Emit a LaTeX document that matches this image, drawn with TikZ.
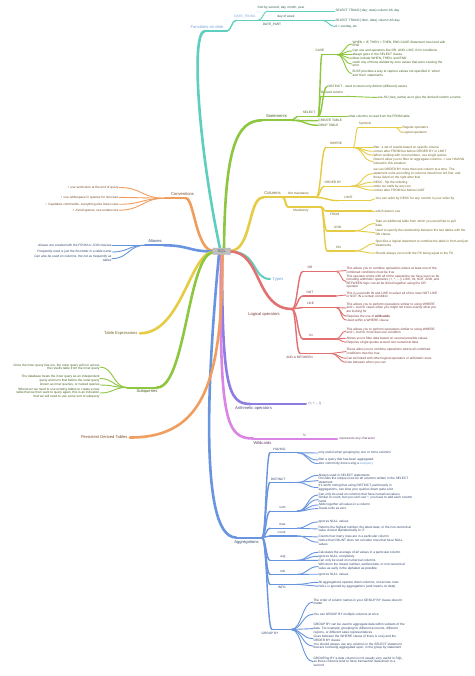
\documentclass[tikz,border=0pt]{standalone}
\usepackage{fontspec}
\setmainfont{Liberation Sans}
\usetikzlibrary{calc}
\definecolor{cTeal}{HTML}{5ECFBE}
\definecolor{cGreen}{HTML}{8DC63F}
\definecolor{cYellow}{HTML}{E6CB45}
\definecolor{cRed}{HTML}{E27070}
\definecolor{cPurple}{HTML}{8E7CE2}
\definecolor{cPink}{HTML}{DA84E4}
\definecolor{cBlue}{HTML}{6894E0}
\definecolor{cOrange}{HTML}{F09E60}
\definecolor{cLink}{HTML}{6FA3DA}
\colorlet{tTeal}{cTeal!45!black}
\colorlet{tGreen}{cGreen!50!black}
\colorlet{tYellow}{cYellow!50!black}
\colorlet{tRed}{cRed!55!black}
\colorlet{tPurple}{cPurple!55!black}
\colorlet{tPink}{cPink!50!black}
\colorlet{tBlue}{cBlue!50!black}
\colorlet{tOrange}{cOrange!50!black}
\newcommand\lfs{\fontsize{3.2}{3.6}\selectfont}
\newcommand\mds{\fontsize{3.2}{3.6}\selectfont}
\newcommand\tps{\fontsize{4.1}{4.6}\selectfont}
\newcommand\mmc[4][w3]{\draw[#1,#2] let \p1=(#3),\p2=(#4) in (\p1) .. controls ({0.5*\x1+0.5*\x2},\y1) and ({0.5*\x1+0.5*\x2},\y2) .. (\p2);}
\tikzset{
 w0/.style={line width=2.6pt},
 w1/.style={line width=2pt},
 w2/.style={line width=1.4pt},
 w3/.style={line width=0.9pt},
 tlab/.style={font=\tps, text=#1, inner sep=0.3pt},
 mlab/.style={font=\mds, text=#1, inner sep=0.3pt},
 lfR/.style={font=\lfs, text=#1, inner sep=0.3pt, anchor=west, align=left},
 lfL/.style={font=\lfs, text=#1, inner sep=0.3pt, anchor=east, align=right},
}
\begin{document}
\begin{tikzpicture}[x=1pt,y=-1pt,line cap=round]
\fill[white] (0,0) rectangle (474,676);
\useasboundingbox (0,0) rectangle (474,676);
% root points on the SQL box
\coordinate (rTeal) at (220,248.5);
\coordinate (rGreen) at (224,248.5);
\coordinate (rYellow) at (230,251);
\coordinate (rTypes) at (230,251.5);
\coordinate (rRed) at (230,251.5);
\coordinate (rPurple) at (222,254);
\coordinate (rPink) at (221,254);
\coordinate (rBlue) at (219,254);
\coordinate (rOr1) at (213.5,251);
\coordinate (rBl2) at (213.5,251.5);
\coordinate (rYl2) at (213.5,252);
\coordinate (rGr2) at (213.5,252.5);
\coordinate (rOr2) at (222.5,254);

% ===== Functions on date
\coordinate (fodA) at (205,31);
\coordinate (fodB) at (227,31);
\draw[w0,cTeal] (rTeal) .. controls (199,150) and (190,31) .. (fodA);
\draw[w1,cTeal] (fodA) -- (fodB);
\node[tlab=cLink] (fod) at (207,26.6) {Functions on date};
\coordinate (dtA) at (236,20.3);
\coordinate (dtM) at (258,20.3);
\coordinate (dtN) at (322,20.3);
\coordinate (dtB) at (331,20.3);
\mmc[w2]{cTeal}{fodB}{dtA}
\draw[w2,cTeal] (dtA) -- (dtB);
\node[mlab=cLink] (dtrunc) at (245,16.6) {DATE\_TRUNC};
\node[mlab=tTeal] (dow) at (286,16.2) {day of week};
\node[mlab=tTeal] (dpart) at (272,25) {DATE\_PART};
\coordinate (srA) at (268,11);
\coordinate (srB) at (331,11);
\mmc{cTeal}{dtM}{srA}
\draw[w3,cTeal] (srA) -- (srB);
\node[mlab=tTeal] (sort) at (281,7.4) {Sort by second, day, month, year};
\node[lfR=tTeal] (tr1) at (335,11) {SELECT TRUNC('day', date) column AS day};
\node[lfR=tTeal] (tr2) at (335,20.3) {SELECT TRUNC('dow', date) column AS day};
\node[lfR=tTeal] (tr3) at (335,26.5) {0 = sunday, etc};
\mmc{cTeal}{srB}{tr1.west}
\mmc{cTeal}{dtB}{tr2.west}
\mmc{cTeal}{dtN}{tr3.west}

% ===== Statements
\coordinate (stA) at (262,120.3);
\coordinate (stB) at (292,120.3);
\draw[w0,cGreen] (rGreen) .. controls (225,150) and (236,120.3) .. (stA);
\draw[w1,cGreen] (stA) -- (stB);
\node[tlab=tGreen] (stm) at (276.5,116.2) {Statements};
\coordinate (slA) at (297,116.6);
\coordinate (slB) at (318,116.6);
\mmc[w2]{cGreen}{stB}{slA}
\draw[w2,cGreen] (slA) -- (slB);
\node[mlab=tGreen] (sel) at (309,112.8) {SELECT};
\node[mlab=tGreen,anchor=west] (crt) at (318,120.8) {CREATE TABLE};
\node[mlab=tGreen,anchor=west] (drp) at (318,125.3) {DROP TABLE};
\mmc[w2]{cGreen}{stB}{crt.west}
\mmc[w2]{cGreen}{stB}{drp.west}
\node[lfR=tGreen] (sl1) at (348,116.6) {what columns to read from the FROM table};
\draw[w3,cGreen] (slB) -- (sl1.west);
\coordinate (dcA) at (321,96.3);
\coordinate (dcB) at (346,96.3);
\mmc[w2]{cGreen}{slB}{dcA}
\draw[w2,cGreen] (dcA) -- (dcB);
\node[mlab=tGreen] (dcol) at (332,92.6) {Derived column};
\node[lfR=tGreen] (dc1) at (377,97.5) {use AS (new\_name) as to give the derived column a name};
\mmc{cGreen}{dcB}{dc1.west}
\node[lfR=tGreen] (dst) at (327,86.6) {DISTINCT - used to return only distinct (different) values};
\mmc[w2]{cGreen}{slB}{dst.west}
\coordinate (csA) at (322,54.6);
\coordinate (csB) at (337,54.6);
\mmc[w2]{cGreen}{slB}{csA}
\draw[w2,cGreen] (csA) -- (csB);
\node[mlab=tGreen] (case) at (320,50.8) {CASE};
\node[lfR=tGreen] (cs1) at (352,44) {WHEN = IF, THEN = THEN, END CASE Statement must end with\\END};
\node[lfR=tGreen] (cs2) at (352,51) {Can use and operators like OR, AND, LIKE, IN in conditions};
\node[lfR=tGreen] (cs3) at (352,54.6) {always goes in the SELECT clause};
\node[lfR=tGreen] (cs4) at (352,58.2) {Must include WHEN, THEN, and END};
\node[lfR=tGreen] (cs5) at (352,64) {catch any of those divided by zero values that were causing the\\error};
\node[lfR=tGreen] (cs6) at (352,73.5) {ELSE provides a way to capture values not specified in `when'\\and `then' statements};
\foreach \i in {1,...,6} {\mmc{cGreen}{csB}{cs\i.west}}

% ===== Columns
\coordinate (coA) at (263,197.5);
\coordinate (coB) at (283,197.5);
\coordinate (nmB) at (316,197.5);
\draw[w0,cYellow] (rYellow) .. controls (252,251) and (248,197.5) .. (coA);
\draw[w1,cYellow] (coA) -- (nmB);
\node[tlab=tYellow] (col) at (272.5,193.4) {Columns};
\node[mlab=tYellow] (nm) at (298.5,193.6) {Not mandatory};
% WHERE
\coordinate (whA) at (326,147.5);
\coordinate (whB) at (353,147.5);
\mmc[w2]{cYellow}{nmB}{whA}
\draw[w2,cYellow] (whA) -- (whB);
\node[mlab=tYellow] (where) at (336,143.7) {WHERE};
\coordinate (syA) at (358,127.6);
\coordinate (syB) at (396,127.6);
\mmc{cYellow}{whB}{syA}
\draw[w3,cYellow] (syA) -- (syB);
\node[mlab=tYellow] (sym) at (365,123.8) {Symbols};
\node[lfR=tYellow] (sy1) at (402,127.7) {Regular operators};
\node[lfR=tYellow] (sy2) at (402,132.5) {Logical operators};
\mmc{cYellow}{syB}{sy1.west}
\mmc{cYellow}{syB}{sy2.west}
\node[lfR=tYellow] (wh1) at (373,147.5) {filter: a set of results based on specific criteria};
\node[lfR=tYellow] (wh2) at (373,151.3) {comes after FROM but before ORDER BY or LIMIT};
\node[lfR=tYellow] (wh3) at (373,155.2) {When working with non-numbers, use single quotes};
\node[lfR=tYellow] (wh4) at (373,161.5) {Doesn't allow you to filter on aggregate columns -> use HAVING\\instead in this situation};
\foreach \i in {1,...,4} {\mmc{cYellow}{whB}{wh\i.west}}
% ORDER BY
\coordinate (obA) at (324,186.3);
\coordinate (obB) at (351,186.3);
\mmc[w2]{cYellow}{nmB}{obA}
\draw[w2,cYellow] (obA) -- (obB);
\node[mlab=tYellow] (ob) at (333,182.6) {ORDER BY};
\node[lfR=tYellow] (ob1) at (373,173.6) {we can ORDER BY more than one column at a time. The\\statement sorts according to columns listed from left first, and\\those listed on the right after that};
\node[lfR=tYellow] (ob2) at (373,182.2) {DESC - flip the ordering};
\node[lfR=tYellow] (ob3) at (373,186.2) {order our table by any row};
\node[lfR=tYellow] (ob4) at (373,190.2) {comes after FROM but before LIMIT};
\foreach \i in {1,...,4} {\mmc{cYellow}{obB}{ob\i.west}}
% LIMIT
\coordinate (liA) at (338,200.6);
\coordinate (liB) at (370,200.6);
\mmc[w2]{cYellow}{nmB}{liA}
\draw[w2,cYellow] (liA) -- (liB);
\node[mlab=tYellow] (limit) at (348.5,197) {LIMIT};
\node[lfR=tYellow] (li1) at (375,198.7) {You can order by DESC for any column in your order by};
\mmc{cYellow}{liB}{li1.west}
% Mandatory
\coordinate (mdA) at (288,207);
\coordinate (mdB) at (321,207);
\mmc[w1]{cYellow}{coB}{mdA}
\draw[w1,cYellow] (mdA) -- (mdB);
\node[mlab=tYellow] (mand) at (301,210.6) {Mandatory};
\coordinate (frA) at (326,211);
\coordinate (frB) at (372,211);
\mmc[w2]{cYellow}{mdB}{frA}
\draw[w2,cYellow] (frA) -- (frB);
\node[mlab=tYellow] (from) at (334.5,214.6) {FROM};
\node[lfR=tYellow] (fr1) at (375,211) {which data to use};
\draw[w3,cYellow] (frB) -- (fr1.west);
\coordinate (jnA) at (327,230.8);
\coordinate (jnB) at (355,230.8);
\mmc[w2]{cYellow}{mdB}{jnA}
\draw[w2,cYellow] (jnA) -- (jnB);
\node[mlab=tYellow] (join) at (337.5,227.2) {JOIN};
\node[lfR=tYellow] (jn1) at (375,223.6) {Take an additional table from which you would like to pull\\data};
\node[lfR=tYellow] (jn2) at (375,232.6) {Used to specify the relationship between the two tables with the\\ON clause};
\mmc{cYellow}{jnB}{jn1.west}
\mmc{cYellow}{jnB}{jn2.west}
\coordinate (onA) at (327,251);
\coordinate (onB) at (355,251);
\mmc[w2]{cYellow}{mdB}{onA}
\draw[w2,cYellow] (onA) -- (onB);
\node[mlab=tYellow] (on) at (338.5,247.4) {ON};
\node[lfR=tYellow] (on1) at (375,243.6) {Specifies a logical statement to combine the table in from and join\\statements};
\node[lfR=tYellow] (on2) at (375,253.2) {Should always occur with the PK being equal to the FK};
\mmc{cYellow}{onB}{on1.west}
\mmc{cYellow}{onB}{on2.west}

% ===== Types
\coordinate (tyE) at (270,279);
\draw[w1,cTeal] (rTypes) .. controls (258,251.5) and (252,279) .. (tyE);
\node[tlab=cLink,anchor=west] (types) at (272,279.2) {Types};

% ===== Logical operators
\coordinate (loA) at (292,309);
\draw[w0,cRed] (rRed) .. controls (262,251.5) and (255,309) .. (loA);
\node[tlab=tRed] (lo) at (264,314) {Logical operators};
\coordinate (orA) at (303,271.3);
\coordinate (orB) at (336,271.3);
\mmc[w2]{cRed}{loA}{orA}
\draw[w2,cRed] (orA) -- (orB);
\node[mlab=tRed] (or) at (310,267.6) {OR};
\node[lfR=tRed] (or1) at (346,270.6) {This allows you to combine operations where at least one of the\\combined conditions must be true};
\node[lfR=tRed] (or2) at (346,281.6) {This operator works with all of the operations we have seen so far\\including arithmetic operators (+, *, -, /), LIKE, IN, NOT, AND, and\\BETWEEN logic can all be linked together using the OR\\operator};
\mmc{cRed}{orB}{or1.west}
\mmc{cRed}{orB}{or2.west}
\coordinate (ntA) at (303,296);
\coordinate (ntB) at (336,296);
\mmc[w2]{cRed}{loA}{ntA}
\draw[w2,cRed] (ntA) -- (ntB);
\node[mlab=tRed] (not) at (310,292.3) {NOT};
\node[lfR=tRed] (nt1) at (346,295) {This is used with IN and LIKE to select all of the rows NOT LIKE\\or NOT IN a certain condition};
\mmc{cRed}{ntB}{nt1.west}
\coordinate (lkA) at (303,307.5);
\coordinate (lkB) at (336,307.5);
\mmc[w2]{cRed}{loA}{lkA}
\draw[w2,cRed] (lkA) -- (lkB);
\node[mlab=tRed] (like) at (310.5,303.8) {LIKE};
\node[lfR=tRed] (lk1) at (346,308) {This allows you to perform operations similar to using WHERE\\and =, but for cases when you might not know exactly what you\\are looking for};
\node[lfR=tRed] (lk2) at (346,316.2) {Requires the use of \textbf{wildcards}};
\node[lfR=tRed] (lk3) at (346,320) {Used within a WHERE clause};
\foreach \i in {1,2,3} {\mmc{cRed}{lkB}{lk\i.west}}
\coordinate (inA) at (303,339);
\coordinate (inB) at (336,339);
\mmc[w2]{cRed}{loA}{inA}
\draw[w2,cRed] (inA) -- (inB);
\node[mlab=tRed] (inn) at (311,335.4) {IN};
\node[lfR=tRed] (in1) at (346,331) {This allows you to perform operations similar to using WHERE\\and =, but for more than one condition};
\node[lfR=tRed] (in2) at (346,338.2) {Allows you to filter data based on several possible values};
\node[lfR=tRed] (in3) at (346,342.2) {Requires single quotes around non-numerical data};
\foreach \i in {1,2,3} {\mmc{cRed}{inB}{in\i.west}}
\coordinate (abA) at (300,353.5);
\coordinate (abB) at (331,353.5);
\mmc[w2]{cRed}{loA}{abA}
\draw[w2,cRed] (abA) -- (abB);
\node[mlab=tRed] (ab) at (299.5,357.5) {AND \& BETWEEN};
\node[lfR=tRed] (ab1) at (346,351.6) {These allow you to combine operations where all combined\\conditions must be true};
\node[lfR=tRed] (ab2) at (346,358.2) {Can be linked with other logical operators or arithmetic ones};
\node[lfR=tRed] (ab3) at (346,362.2) {Use between when you can};
\foreach \i in {1,2,3} {\mmc{cRed}{abB}{ab\i.west}}

% ===== Arithmetic operators
\coordinate (arA) at (250,404);
\coordinate (arB) at (306,404);
\draw[w0,cPurple] (rPurple) .. controls (222,385) and (228,404) .. (arA);
\draw[w1,cPurple] (arA) -- (arB);
\node[tlab=tPurple] (ar) at (253.5,408.5) {Arithmetic operators};
\node[lfR=tPurple] (ar1) at (308,403.8) {(+, *, -, /)};

% ===== Wildcards
\coordinate (wcA) at (253,438.5);
\coordinate (wcB) at (337,438.5);
\draw[w0,cPink] (rPink) .. controls (219,420) and (226,438.5) .. (wcA);
\draw[w1,cPink] (wcA) -- (wcB);
\node[tlab=tPink] (wc) at (262.5,442.6) {Wildcards};
\node[mlab=tPink] (pct) at (304.5,435) {\%};
\node[lfR=tPink] (wc1) at (339,438.3) {represents any character};

% ===== Aggregations
\coordinate (agA) at (236,537.5);
\coordinate (agB) at (262,537.5);
\draw[w0,cBlue] (rBlue) .. controls (210,350) and (196,537.5) .. (agA);
\draw[w1,cBlue] (agA) -- (agB);
\node[tlab=tBlue] (agg) at (246.5,542) {Aggregations};
% HAVING
\coordinate (hvA) at (270,452.7);
\coordinate (hvB) at (297,452.7);
\mmc[w2]{cBlue}{agB}{hvA}
\draw[w2,cBlue] (hvA) -- (hvB);
\node[mlab=tBlue,anchor=east] (hav) at (286,449.3) {HAVING};
\node[lfR=tBlue] (h1) at (318,453) {only useful when grouping by one or more columns};
\node[lfR=tBlue] (h2) at (318,460) {filter a query that has been aggregated};
\node[lfR=tBlue] (h3) at (318,463.6) {also commonly done using a \textcolor{cLink}{subquery}};
\foreach \i in {1,2,3} {\mmc{cBlue}{hvB}{h\i.west}}
% DISTINCT
\coordinate (diA) at (270,482.5);
\coordinate (diB) at (297,482.5);
\mmc[w2]{cBlue}{agB}{diA}
\draw[w2,cBlue] (diA) -- (diB);
\node[mlab=tBlue,anchor=east] (dis) at (286,479.1) {DISTINCT};
\node[lfR=tBlue] (d1) at (318,475.3) {Always used in SELECT statements};
\node[lfR=tBlue] (d2) at (318,480.6) {Provides the unique rows for all columns written in the SELECT\\statement};
\node[lfR=tBlue] (d3) at (318,487.6) {It's worth noting that using DISTINCT, particularly in\\aggregations, can slow your queries down quite a bit};
\foreach \i in {1,2,3} {\mmc{cBlue}{diB}{d\i.west}}
% sum
\coordinate (suA) at (270,511.2);
\coordinate (suB) at (297,511.2);
\mmc[w2]{cBlue}{agB}{suA}
\draw[w2,cBlue] (suA) -- (suB);
\node[mlab=tBlue,anchor=east] (sum) at (286,507.9) {sum};
\node[lfR=tBlue] (s1) at (318,495) {Can only be used on columns that have numerical values};
\node[lfR=tBlue] (s2) at (318,499.6) {Similar to count, but you can't use *, you have to add each column\\name};
\node[lfR=tBlue] (s3) at (318,505) {Adds together all values in a column};
\node[lfR=tBlue] (s4) at (318,508.6) {Treats nulls as zero};
\foreach \i in {1,...,4} {\mmc{cBlue}{suB}{s\i.west}}
% max
\coordinate (mxA) at (270,528.2);
\coordinate (mxB) at (297,528.2);
\mmc[w2]{cBlue}{agB}{mxA}
\draw[w2,cBlue] (mxA) -- (mxB);
\node[mlab=tBlue,anchor=east] (max) at (286,524.9) {max};
\node[lfR=tBlue] (m1) at (318,522) {Ignores NULL values};
\node[lfR=tBlue] (m2) at (318,529) {Returns the highest number, the latest date, or the non-numerical\\value closest alphabetically to `Z'};
\foreach \i in {1,2} {\mmc{cBlue}{mxB}{m\i.west}}
% count
\coordinate (ctA) at (270,536);
\coordinate (ctB) at (297,536);
\mmc[w2]{cBlue}{agB}{ctA}
\draw[w2,cBlue] (ctA) -- (ctB);
\node[mlab=tBlue,anchor=east] (count) at (286,532.7) {count};
\node[lfR=tBlue] (cn1) at (318,537) {Counts how many rows are in a particular column};
\node[lfR=tBlue] (cn2) at (318,542.2) {Notice that COUNT does not consider rows that have NULL\\values};
\foreach \i in {1,2} {\mmc{cBlue}{ctB}{cn\i.west}}
% avg
\coordinate (avA) at (270,560.4);
\coordinate (avB) at (297,560.4);
\mmc[w2]{cBlue}{agB}{avA}
\draw[w2,cBlue] (avA) -- (avB);
\node[mlab=tBlue,anchor=east] (avg) at (286,557.1) {avg};
\node[lfR=tBlue] (a1) at (318,552.3) {Calculates the average of all values in a particular column};
\node[lfR=tBlue] (a2) at (318,556.3) {Ignores NULL completely};
\node[lfR=tBlue] (a3) at (318,560.3) {Can only be used on numerical columns};
\foreach \i in {1,2,3} {\mmc{cBlue}{avB}{a\i.west}}
% min
\coordinate (mnA) at (270,574.4);
\coordinate (mnB) at (297,574.4);
\mmc[w2]{cBlue}{agB}{mnA}
\draw[w2,cBlue] (mnA) -- (mnB);
\node[mlab=tBlue,anchor=east] (min) at (286,571.1) {min};
\node[lfR=tBlue] (mn1) at (318,566.6) {Will return the lowest number, earliest date, or non-numerical\\value as early in the alphabet as possible};
\node[lfR=tBlue] (mn2) at (318,574.2) {Ignores NULL values};
\foreach \i in {1,2} {\mmc{cBlue}{mnB}{mn\i.west}}
% INFO
\coordinate (ifA) at (270,584.3);
\coordinate (ifB) at (297,584.3);
\mmc[w2]{cBlue}{agB}{ifA}
\draw[w2,cBlue] (ifA) -- (ifB);
\node[mlab=tBlue,anchor=east] (info) at (286,587.8) {INFO};
\node[lfR=tBlue] (i1) at (318,582.3) {All aggregations operate down columns, not across rows};
\node[lfR=tBlue] (i2) at (318,586.2) {NULL is ignored by aggregations (and means no data)};
\foreach \i in {1,2} {\mmc{cBlue}{ifB}{i\i.west}}
% GROUP BY
\coordinate (gbA) at (272,629.5);
\coordinate (gbB) at (291,629.5);
\mmc[w2]{cBlue}{agB}{gbA}
\draw[w2,cBlue] (gbA) -- (gbB);
\node[mlab=tBlue] (gb) at (270,633.5) {GROUP BY};
\node[lfR=tBlue] (g1) at (313,602) {The order of column names in your GROUP BY clause doesn't\\matter};
\node[lfR=tBlue] (g2) at (313,614.3) {You can GROUP BY multiple columns at once};
\node[lfR=tBlue] (g3) at (313,628.6) {GROUP BY can be used to aggregate data within subsets of the\\data. For example, grouping for different accounts, different\\regions, or different sales representatives};
\node[lfR=tBlue] (g4) at (313,638.6) {Goes between the WHERE clause (if there is one) and the\\ORDER BY clause};
\node[lfR=tBlue] (g5) at (313,646) {You should always use any columns in the SELECT statement\\that are not being aggregated upon, in the group by statement};
\node[lfR=tBlue] (g6) at (313,661.6) {GROUPing BY a date column is not usually very useful in SQL,\\as these columns tend to have transaction data down to a\\second};
\foreach \i in {1,...,6} {\mmc{cBlue}{gbB}{g\i.west}}

% ===== Conventions (left)
\coordinate (cvA) at (186,198.3);
\coordinate (cvB) at (165,198.3);
\draw[w0,cOrange] (rOr1) .. controls (196,251) and (194,198.3) .. (cvA);
\draw[w1,cOrange] (cvA) -- (cvB);
\node[tlab=tOrange] (conv) at (182.5,194.3) {Conventions};
\node[lfL=tOrange] (cv1) at (119,187.5) {•\enspace use semicolon at the end of query};
\node[lfL=tOrange] (cv2) at (119,197.3) {•\enspace use whitespace in queries for structure};
\node[lfL=tOrange] (cv3) at (119,204.3) {•\enspace Capitalize commands, everything else lower case};
\node[lfL=tOrange] (cv4) at (119,210.2) {•\enspace Avoid spaces, use underscore};
\foreach \i in {1,...,4} {\mmc{cOrange}{cvB}{cv\i.east}}

% ===== Aliases
\coordinate (alA) at (164,245.3);
\coordinate (alB) at (145,245.3);
\mmc[w0]{cBlue}{rBl2}{alA}
\draw[w1,cBlue] (alA) -- (alB);
\node[tlab=tBlue] (ali) at (155,241) {Aliases};
\node[lfL=tBlue,font=\lfs\itshape] (al1) at (112,245.3) {Aliases are created with the FROM or JOIN clauses};
\node[lfL=tBlue,font=\lfs\itshape] (al2) at (112,252) {Frequently used is just the first letter in a table name};
\node[lfL=tBlue,font=\lfs\itshape] (al3) at (112,258.6) {Can also be used on columns, the not as frequently as\\tables};
\foreach \i in {1,2,3} {\mmc{cBlue}{alB}{al\i.east}}

% ===== Table Expressions
\coordinate (teE) at (140,333.3);
\draw[w0,cYellow] (rYl2) .. controls (190,252) and (182,333.3) .. (teE);
\node[tlab=tYellow,anchor=east] (te) at (138,333.3) {Table Expressions};

% ===== Subqueries
\coordinate (sqA) at (157,387.5);
\coordinate (sqB) at (127,387.5);
\draw[w0,cGreen] (rGr2) .. controls (188,252.5) and (186,387.5) .. (sqA);
\draw[w1,cGreen] (sqA) -- (sqB);
\node[tlab=tGreen] (sq) at (147,391.6) {Subqueries};
\node[lfL=tGreen] (sq1) at (100,367) {Once the inner query has run, the outer query will run across\\the results table from the inner query};
\node[lfL=tGreen] (sq2) at (100,378.5) {The database treats the inner query as an independent\\query and runs that before the outer query};
\node[lfL=tGreen] (sq3) at (100,385) {known as inner queries, or nested queries};
\node[lfL=tGreen] (sq4) at (100,393) {Whenever we need to use existing tables to create a new\\table that we then want to query again, this is an indication\\that we will need to use some sort of subquery};
\foreach \i in {1,...,4} {\mmc{cGreen}{sqB}{sq\i.east}}

% ===== Persistent Derived Tables
\coordinate (pdE) at (130,437.5);
\draw[w0,cOrange] (rOr2) .. controls (222,380) and (205,437.5) .. (pdE);
\node[tlab=tOrange,anchor=east] (pdt) at (128,437.5) {Persistent Derived Tables};

% ===== central node
\node[fill=black!25, draw=black!30, line width=0.3pt, rounded corners=0.6pt, minimum width=18pt, minimum height=6.5pt, inner sep=0pt, font=\tps, text=black!65] (sql) at (221.7,251.3) {SQL};
\end{tikzpicture}
\end{document}
